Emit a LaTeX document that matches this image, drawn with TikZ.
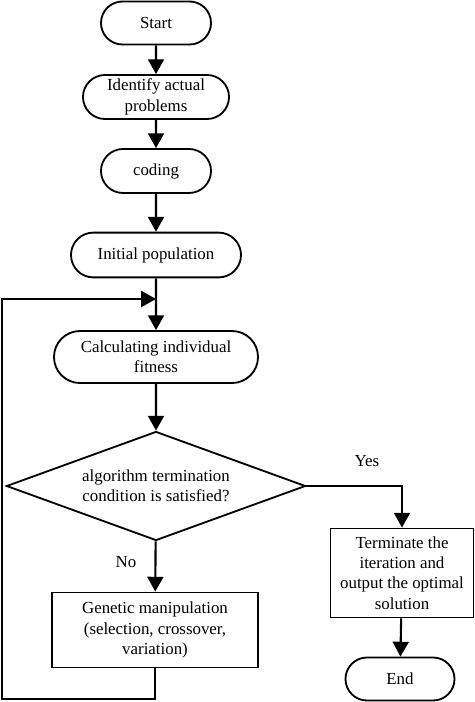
\documentclass[tikz,border=0pt]{standalone}
\usepackage{fontspec}
\setmainfont{Liberation Serif}
\usepackage{tikz}
\usetikzlibrary{shapes.geometric, shapes.misc, arrows.meta, positioning}
\tikzstyle{arrow} = [line width=1.5pt, -{Triangle[length=0.37cm, width=0.4cm]}]

\begin{document}
\begin{tikzpicture}[
    x=0.025cm, y=-0.025cm,
    every node/.style={font=\fontsize{12}{14.5}\selectfont},
    term/.style={draw, line width=1.3pt, rounded rectangle, align=center, inner sep=0pt},
    box/.style={draw, line width=1.3pt, rectangle, align=center, inner sep=0pt},
    decision/.style={draw, line width=1.3pt, diamond, aspect=2.75, align=center, inner sep=0pt, minimum width=7.475cm, minimum height=2.725cm}
]
\useasboundingbox (0,0) rectangle (474,702);
\node[term, minimum width=2.75cm, minimum height=1.075cm] (start) at (156,23) {Start};
\node[term, minimum width=3.65cm, minimum height=1.1cm] (identify) at (156,97) {Identify actual\\problems};
\node[term, minimum width=2.75cm, minimum height=1.1cm] (coding) at (156,171) {coding};
\node[term, minimum width=4.25cm, minimum height=1.12cm] (init) at (156,255) {Initial population};
\node[term, minimum width=5.1cm, minimum height=1.3cm] (fitness) at (156,357) {Calculating individual\\fitness};
\node[decision] (check) at (156,486) {algorithm termination\\condition is satisfied?};
\node[box, minimum width=5.15cm, minimum height=1.875cm] (genetic) at (155,630) {Genetic manipulation\\(selection, crossover,\\variation)};
\node[box, minimum width=3.575cm, minimum height=2.225cm] (terminate) at (402,573) {Terminate the\\iteration and\\output the optimal\\solution};
\node[term, minimum width=2.725cm, minimum height=1.075cm] (end) at (400,679) {End};
\node (yes) at (367,461) {Yes};
\node (no) at (126,562) {No};
\coordinate (join) at (156,299);

\draw[arrow] (start) -- (identify);
\draw[arrow] (identify) -- (coding);
\draw[arrow] (coding) -- (init);
\draw[arrow] (init) -- (fitness);
\draw[arrow] (fitness) -- (check);
\draw[arrow] (check) -- (genetic);
\draw[arrow] (check.east) -| (terminate.north);
\draw[arrow] (terminate) -- (end);
% loop back
\draw[arrow] (genetic.south) -- ++(0,31) -| (2,299) -- (join);
\end{tikzpicture}
\end{document}
